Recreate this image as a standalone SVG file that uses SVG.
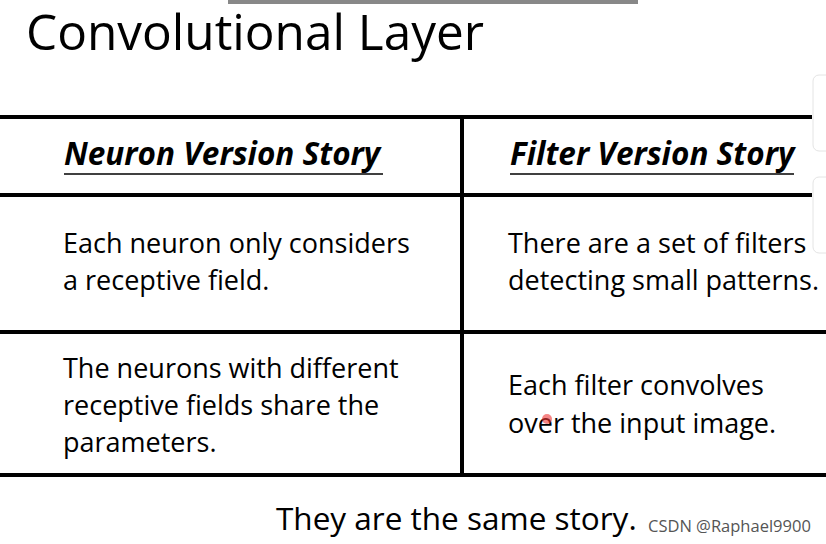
<svg xmlns="http://www.w3.org/2000/svg" width="826" height="544" viewBox="0 0 826 544">
<style>
text{font-family:"Open Sans","Liberation Sans",sans-serif;fill:#000}
.b{font-size:27px}
.h{font-size:31.5px;font-weight:bold;font-style:italic}
.l{stroke:#000;stroke-width:4}
</style>
<rect width="826" height="544" fill="#fff"/>
<rect x="228" y="0" width="410" height="4" fill="#888"/>
<rect x="813" y="75" width="20" height="76" rx="6" fill="#fff" stroke="#e4e4e4"/>
<rect x="813" y="177" width="20" height="76" rx="6" fill="#fff" stroke="#e4e4e4"/>
<text x="26" y="50" font-size="49.5">Convolutional Layer</text>
<g id="grid">
<line class="l" x1="0" y1="117" x2="812" y2="117"/>
<line class="l" x1="0" y1="195" x2="812" y2="195"/>
<line class="l" x1="0" y1="332" x2="826" y2="332"/>
<line class="l" x1="0" y1="475" x2="826" y2="475"/>
<line class="l" x1="462" y1="117" x2="462" y2="475"/>
</g>
<g id="h1"><text class="h" x="64" y="165">Neuron Version Story</text><line x1="64" y1="174" x2="383" y2="174" stroke="#000" stroke-width="1.5"/></g>
<g id="h2"><text class="h" x="510" y="165">Filter Version Story</text><line x1="510" y1="174" x2="794" y2="174" stroke="#000" stroke-width="1.5"/></g>
<g id="c1"><text class="b" x="63" y="253">Each neuron only considers</text><text class="b" x="63" y="290">a receptive field.</text></g>
<g id="c2"><text class="b" x="508" y="253">There are a set of filters</text><text class="b" x="508" y="290">detecting small patterns.</text></g>
<g id="c3"><text class="b" x="63" y="378">The neurons with different</text><text class="b" x="63" y="415">receptive fields share the</text><text class="b" x="63" y="452">parameters.</text></g>
<g id="c4"><text class="b" x="508" y="395">Each filter convolves</text><text class="b" x="508" y="433">over the input image.</text></g>
<circle cx="547" cy="419" r="5" fill="#e33" opacity="0.6"/>
<text x="276" y="530" font-size="31.5">They are the same story.</text>
<text x="648" y="532" font-size="16.5" style="fill:#555">CSDN @Raphael9900</text>
</svg>
